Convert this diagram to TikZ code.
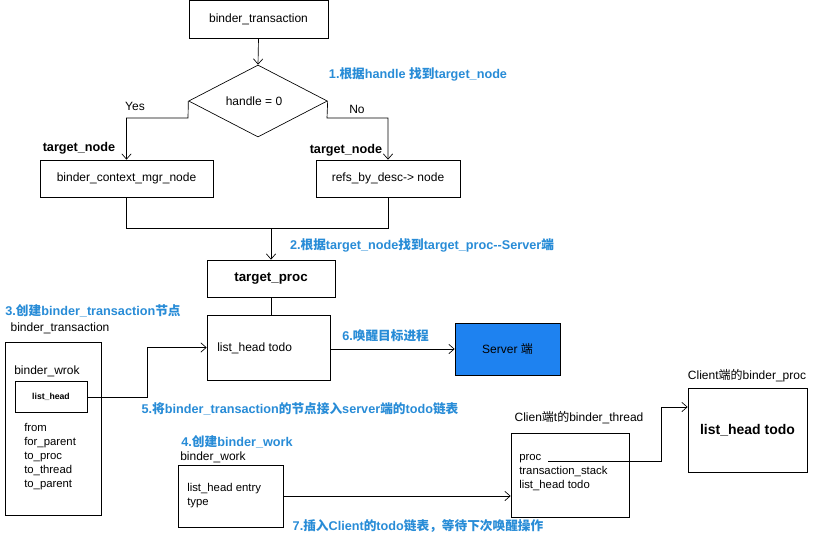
\documentclass[tikz,border=0pt]{standalone}
\usepackage{fontspec}
\setmainfont{Liberation Sans}
\newfontfamily\cjk{Noto Sans CJK SC}
\usetikzlibrary{shapes.geometric,arrows.meta}
\definecolor{lblue}{RGB}{40,140,215}
\definecolor{sblue}{RGB}{30,130,240}
\begin{document}
\begin{tikzpicture}[x=0.75pt,y=-0.75pt,font=\fontsize{9}{10}\selectfont,
  box/.style={draw,line width=0.5pt,inner sep=0},
  lbl/.style={inner sep=0,anchor=center},
  note/.style={inner sep=0,text=lblue,font=\fontsize{9.5}{10}\selectfont\bfseries},
  arr/.style={-{Straight Barb[length=4pt,width=7pt]},line width=0.5pt},
  ln/.style={line width=0.5pt}]
\useasboundingbox[fill=white] (0,0) rectangle (820,537);
% top
\node[box,minimum width=104pt,minimum height=28.5pt] (bt) at (258.5,19) {binder\_transaction};
\node[diamond,draw,line width=0.5pt,minimum width=104pt,minimum height=54pt,inner sep=0] (d) at (258,101) {};
\node[lbl] (dl) at (254,101) {handle = 0};
\draw[arr] (bt.south) -- (d.north);
\node[note] (n1) at (418,74) {1.{\cjk 根据}handle {\cjk 找到}target\_node};
\node[lbl] (yes) at (135,106) {Yes};
\node[lbl] (no) at (357,109) {No};
\node[box,minimum width=129.75pt,minimum height=27.75pt] (lb) at (126.5,178.5) {binder\_context\_mgr\_node};
\node[box,minimum width=108pt,minimum height=27.75pt] (rb) at (388,178.5) {refs\_by\_desc-> node};
\node[lbl,font=\fontsize{9.5}{10}\selectfont\bfseries] (tn1) at (79,148) {target\_node};
\node[lbl,font=\fontsize{9.5}{10}\selectfont\bfseries] (tn2) at (346,150) {target\_node};
\coordinate (yl) at (188,118);
\coordinate (nl) at (327,118);
\draw[arr] (d.west) -- (yl) -| (lb.north);
\draw[arr] (d.east) -- (nl) -| (rb.north);
\coordinate (m) at (271,228);
\draw[ln] (lb.south) |- (m) -| (rb.south);
\node[box,minimum width=96pt,minimum height=27.75pt,font=\fontsize{10}{11}\selectfont\bfseries] (tp) at (271,278.5) {target\_proc};
\draw[arr] (m) -- (tp.north);
\node[note] (n2) at (422,245) {2.{\cjk 根据}target\_node{\cjk 找到}target\_proc-{}-Server{\cjk 端}};
% todo
\node[box,minimum width=92.25pt,minimum height=48.75pt] (todo) at (268.5,347.5) {};
\node[lbl,anchor=west] (todot) at (217,348) {list\_head todo};
\draw[ln] (tp.south) -- (tp.south |- todo.north);
\node[box,fill=sblue,minimum width=78.75pt,minimum height=39pt] (srv) at (507.5,349) {Server {\cjk 端}};
\draw[arr] (todo.east |- srv.west) -- (srv.west);
\node[note,anchor=west] (n6) at (342,336) {6.{\cjk 唤醒目标进程}};
% binder_transaction
\node[note] (n3) at (93,311) {3.{\cjk 创建}binder\_transaction{\cjk 节点}};
\node[lbl] (btl) at (60,328) {binder\_transaction};
\node[box,minimum width=72pt,minimum height=129.75pt] (ob) at (53,428.5) {};
\node[lbl,anchor=west] (bw) at (14,371) {binder\_wrok};
\node[box,minimum width=54pt,minimum height=23.25pt,font=\fontsize{6.5}{7}\selectfont\bfseries] (lh) at (51,397) {list\_head};
\node[lbl,anchor=north west,align=left,font=\fontsize{8.5}{10.5}\selectfont] (fields) at (24,423) {from\\for\_parent\\to\_proc\\to\_thread\\to\_parent};
\coordinate (c5) at (147,397);
\draw[arr] (lh.east) -- (c5) |- (todo.west);
\node[note] (n5) at (300,409) {5.{\cjk 将}binder\_transaction{\cjk 的节点接入}server{\cjk 端的}todo{\cjk 链表}};
% binder_work
\node[note] (n4) at (237,442) {4.{\cjk 创建}binder\_work};
\node[lbl] (bwl) at (213,457) {binder\_work};
\node[box,minimum width=78.75pt,minimum height=46.5pt] (bwb) at (230.5,496) {};
\node[lbl,anchor=north west,align=left,font=\fontsize{8.5}{10.5}\selectfont] (bwt) at (187,483) {list\_head entry\\type};
% thread
\node[lbl] (thl) at (579,418) {Clien{\cjk 端}t{\cjk 的}binder\_thread};
\node[box,minimum width=88.5pt,minimum height=63pt] (th) at (570,475) {};
\draw[arr] (bwb.east) -- (th.west |- bwb.east);
\node[lbl,anchor=north west,align=left,font=\fontsize{8.5}{10.5}\selectfont] (tht) at (519,454) {proc\\transaction\_stack\\list\_head todo};
\node[note] (n7) at (418,526) {7.{\cjk 插入}Client{\cjk 的}todo{\cjk 链表，等待下次唤醒操作}};
% client proc
\node[lbl] (cpl) at (747,376) {Client{\cjk 端的}binder\_proc};
\node[box,minimum width=89.25pt,minimum height=63pt,font=\fontsize{10.5}{12}\selectfont\bfseries] (cp) at (747.5,430) {list\_head todo};
\coordinate (ps) at (548,461);
\coordinate (pc) at (661,461);
\draw[arr] (ps) -- (pc) |- (cp.west |- 0,407);
\end{tikzpicture}
\end{document}
